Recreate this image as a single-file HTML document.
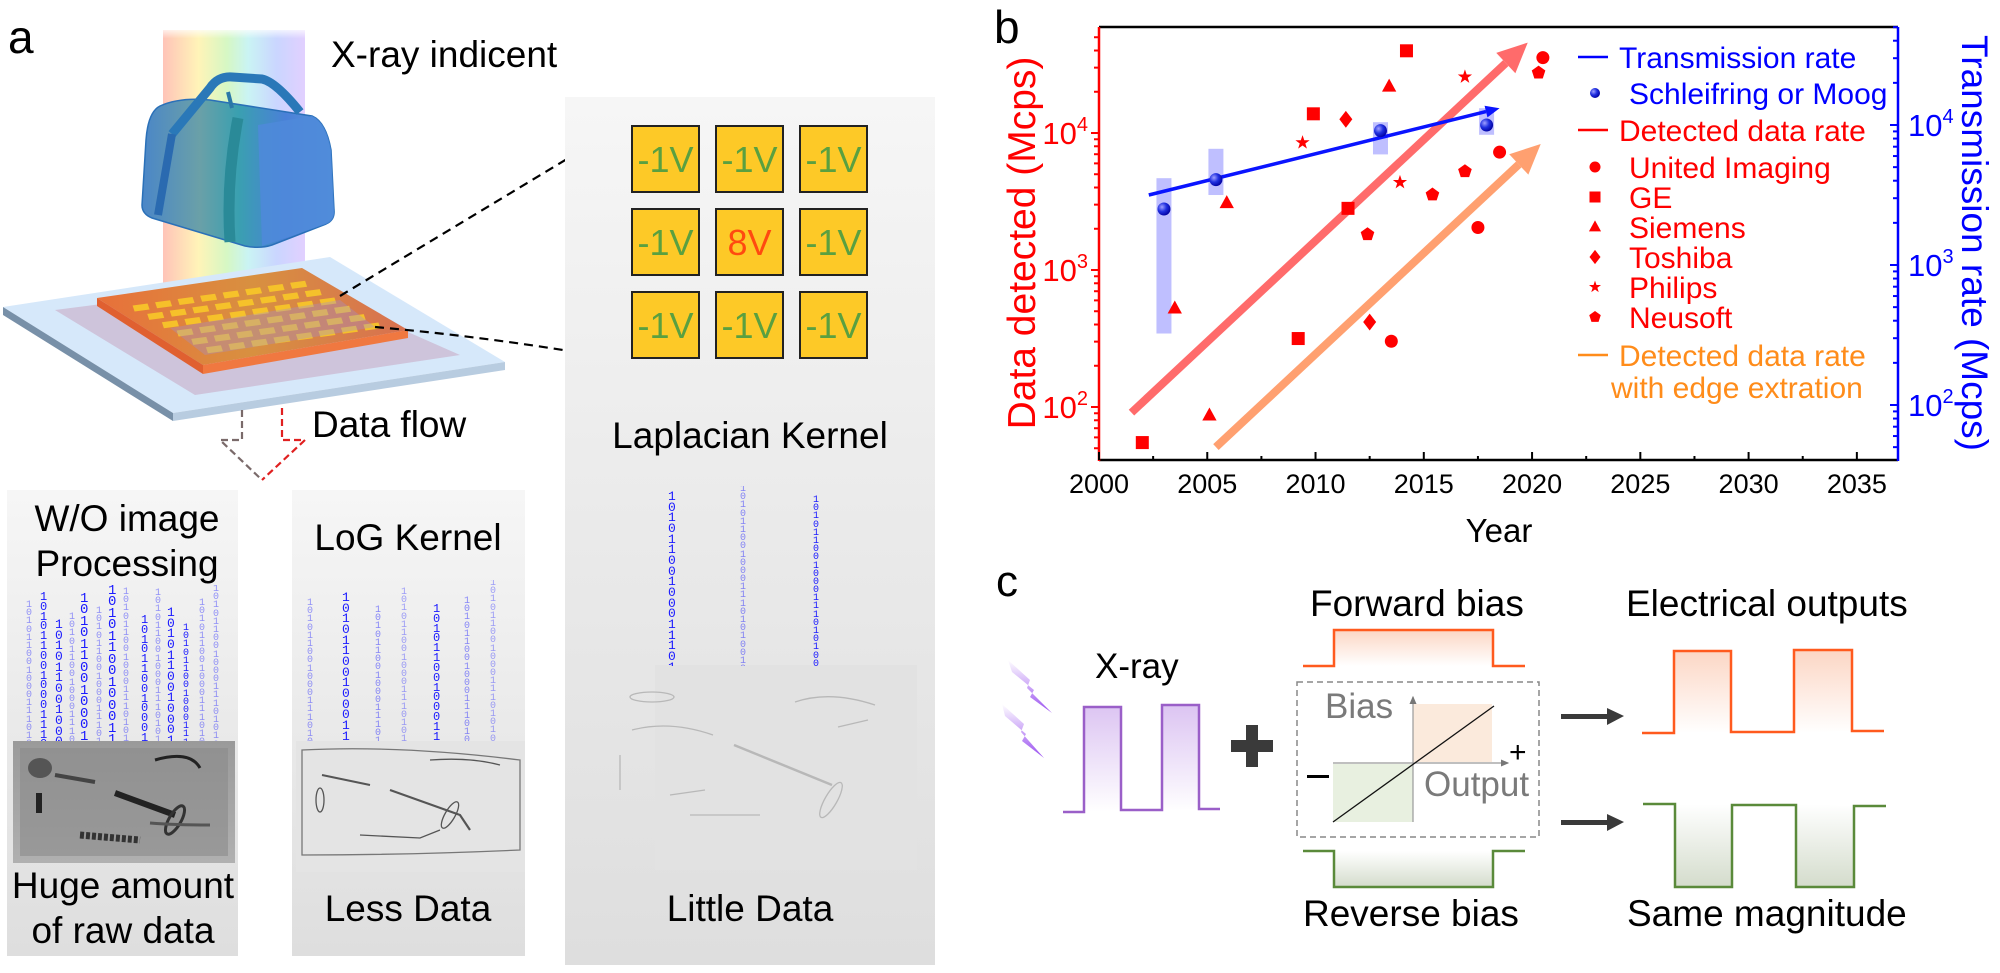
<!DOCTYPE html>
<html><head><meta charset="utf-8">
<style>
html,body{margin:0;padding:0;background:#fff;}
#root{position:relative;width:2000px;height:973px;overflow:hidden;font-family:"Liberation Sans",Arial,sans-serif;}
svg{position:absolute;left:0;top:0;}
.bin{position:absolute;font-family:"Liberation Mono",monospace;word-break:break-all;line-height:0.82;color:#1a1aff;}
.clip{position:absolute;overflow:hidden;}
</style></head>
<body>
<div id="root">
<svg id="fig" width="2000" height="973" viewBox="0 0 2000 973">
<defs>
  <linearGradient id="rainbow" x1="0" x2="1" y1="0" y2="0">
    <stop offset="0" stop-color="#ffb0a0"/><stop offset="0.25" stop-color="#fff0a0"/>
    <stop offset="0.45" stop-color="#c8f5b0"/><stop offset="0.6" stop-color="#b8f0f0"/>
    <stop offset="0.8" stop-color="#b8c8ff"/><stop offset="1" stop-color="#d8c0ff"/>
  </linearGradient>
  <linearGradient id="fadeV" x1="0" x2="0" y1="0" y2="1">
    <stop offset="0" stop-color="#fff" stop-opacity="0.9"/><stop offset="0.15" stop-color="#fff" stop-opacity="0"/>
  </linearGradient>
  <linearGradient id="bagG" x1="0" x2="1" y1="0" y2="0">
    <stop offset="0" stop-color="#4a86c8"/><stop offset="0.3" stop-color="#6aa0a8"/>
    <stop offset="0.5" stop-color="#3aa0b0"/><stop offset="0.75" stop-color="#4a80d8"/><stop offset="1" stop-color="#5a9ad8"/>
  </linearGradient>
  <linearGradient id="chipG" x1="0" x2="1" y1="0" y2="0">
    <stop offset="0" stop-color="#e8703a"/><stop offset="0.5" stop-color="#d89040"/><stop offset="1" stop-color="#d87050"/>
  </linearGradient>
  <linearGradient id="panelG" x1="0" x2="0" y1="0" y2="1">
    <stop offset="0" stop-color="#f6f6f6"/><stop offset="1" stop-color="#dedede"/>
  </linearGradient>
  <linearGradient id="purpG" x1="0" x2="0" y1="0" y2="1">
    <stop offset="0" stop-color="#dcc4f2"/><stop offset="1" stop-color="#ffffff"/>
  </linearGradient>
  <linearGradient id="orgG" x1="0" x2="0" y1="0" y2="1">
    <stop offset="0" stop-color="#fcd6c4"/><stop offset="1" stop-color="#ffffff"/>
  </linearGradient>
  <linearGradient id="grnG" x1="0" x2="0" y1="1" y2="0">
    <stop offset="0" stop-color="#d4dccc"/><stop offset="1" stop-color="#ffffff"/>
  </linearGradient>
  <linearGradient id="boltG" x1="0" x2="0" y1="0" y2="1">
    <stop offset="0" stop-color="#ffffff"/><stop offset="1" stop-color="#9a50f0"/>
  </linearGradient>
  <radialGradient id="ballG" cx="0.35" cy="0.35" r="0.7">
    <stop offset="0" stop-color="#a0a0ff"/><stop offset="0.5" stop-color="#2030e0"/><stop offset="1" stop-color="#0000a0"/>
  </radialGradient>
  <linearGradient id="xrayImg" x1="0" x2="0" y1="0" y2="1">
    <stop offset="0" stop-color="#9a9a9a"/><stop offset="1" stop-color="#b0b0b0"/>
  </linearGradient>
  <marker id="ahGray" markerWidth="8" markerHeight="8" refX="6" refY="4" orient="auto"><path d="M0,1 L7,4 L0,7 Z" fill="#777"/></marker>
</defs>

<!-- PANEL A -->
<text x="8" y="53" font-size="46" fill="#000">a</text>
<rect x="163" y="30" width="142" height="360" fill="url(#rainbow)" opacity="0.75"/>
<rect x="160" y="28" width="150" height="70" fill="url(#fadeV)"/>
<text x="331" y="67" font-size="37" fill="#000">X-ray indicent</text>

<g>
  <path d="M160,106 Q148,112 146,140 L142,205 Q142,214 152,218 L245,246 Q260,249 272,245 L326,224 Q335,220 334,210 L331,150 Q326,122 312,116 L210,100 Q180,97 160,106 Z" fill="url(#bagG)" stroke="#2a70b8" stroke-width="1.5"/>
  <path d="M258,125 L312,116 Q326,122 331,150 L334,210 Q335,220 326,224 L262,246 Z" fill="#4f8ada" opacity="0.85"/>
  <path d="M172,134 L210,88 Q218,76 232,77 L262,79 Q276,82 300,112" fill="none" stroke="#2a78b8" stroke-width="9" stroke-linejoin="round"/>
  <path d="M228,92 L232,108" stroke="#2a78a8" stroke-width="4"/>
  <path d="M172,134 L158,215" stroke="#2a6ab0" stroke-width="8" fill="none"/>
  <path d="M238,118 Q226,180 230,242" stroke="#2a8a98" stroke-width="11" fill="none"/>
</g>

<g>
  <polygon points="3,307 330,257 505,362 173,413" fill="#d6e8fa"/>
  <polygon points="3,307 173,413 173,421 3,315" fill="#7890a8"/>
  <polygon points="173,413 505,362 505,370 173,421" fill="#b8cce0"/>
  <polygon points="55,310 290,280 460,355 195,395" fill="#c080a0" opacity="0.35"/>
  <polygon points="97,298 302,268 408,330 203,365" fill="url(#chipG)"/>
  <polygon points="97,298 203,365 203,374 97,306" fill="#e06030"/>
  <polygon points="203,365 408,330 408,338 203,374" fill="#f07840"/>
  <g id="pixels"></g>
  <polygon points="170,328 340,300 375,327 205,355" fill="#a090d0" opacity="0.35"/>
</g>
<path d="M340,296 L620,127" stroke="#000" stroke-width="2.2" stroke-dasharray="9,6" fill="none"/>
<path d="M375,327 Q500,338 622,360" stroke="#000" stroke-width="2.2" stroke-dasharray="9,6" fill="none"/>

<g fill="none" stroke-width="2.2" stroke-dasharray="7,4">
  <path d="M242,410 L242,440 L220,440 L262,480" stroke="#7a6a6a"/>
  <path d="M282,408 L282,440 L305,440 L262,480" stroke="#e02020"/>
</g>
<text x="312" y="437" font-size="37" fill="#000">Data flow</text>

<!-- bottom panels -->
<rect x="7" y="490" width="231" height="466" fill="url(#panelG)"/>
<text x="127" y="531" font-size="37" text-anchor="middle">W/O image</text>
<text x="127" y="576" font-size="37" text-anchor="middle">Processing</text>
<g>
  <rect x="13" y="741" width="222" height="122" fill="url(#xrayImg)"/>
  <rect x="20" y="748" width="208" height="108" fill="#8a8a8a" opacity="0.6"/>
  <ellipse cx="40" cy="768" rx="12" ry="10" fill="#555"/>
  <path d="M115,793 L175,815" stroke="#222" stroke-width="6"/>
  <path d="M80,835 L140,840" stroke="#333" stroke-width="7" stroke-dasharray="4,2"/>
  <path d="M55,775 L95,782" stroke="#444" stroke-width="4"/>
  <rect x="36" y="793" width="6" height="20" fill="#222"/>
  <ellipse cx="175" cy="820" rx="6" ry="16" fill="none" stroke="#333" stroke-width="3" transform="rotate(30 175 820)"/>
  <path d="M155,760 Q190,750 200,768" stroke="#222" stroke-width="3" fill="none"/>
  <path d="M150,823 Q175,825 210,825" stroke="#555" stroke-width="3"/>
</g>
<text x="123" y="898" font-size="37" text-anchor="middle">Huge amount</text>
<text x="123" y="943" font-size="37" text-anchor="middle">of raw data</text>

<rect x="292" y="490" width="233" height="466" fill="url(#panelG)"/>
<text x="408" y="550" font-size="37" text-anchor="middle">LoG Kernel</text>
<g fill="none" stroke="#555" stroke-width="1.3">
  <rect x="296" y="741" width="229" height="131" fill="#e4e4e4" stroke="none"/>
  <path d="M302,750 Q400,745 520,760 L520,850 Q410,855 302,855 Z" stroke="#777"/>
  <path d="M322,775 L370,785" stroke-width="2"/>
  <ellipse cx="320" cy="800" rx="4" ry="12"/>
  <path d="M390,790 L460,815 L470,830" stroke-width="2.2"/>
  <path d="M360,835 L420,838 L440,830"/>
  <path d="M430,760 Q470,757 500,765"/>
  <ellipse cx="450" cy="815" rx="5" ry="15" transform="rotate(30 450 815)"/>
</g>
<text x="408" y="921" font-size="37" text-anchor="middle">Less Data</text>

<rect x="565" y="97" width="370" height="868" fill="url(#panelG)"/>
<g id="kernel"></g>
<text x="750" y="448" font-size="37" text-anchor="middle">Laplacian Kernel</text>
<g fill="none" stroke="#b8b8b8" stroke-width="1.3">
  <rect x="655" y="665" width="262" height="205" fill="#e2e2e2" stroke="none"/>
  <ellipse cx="652" cy="697" rx="22" ry="5"/>
  <path d="M632,730 Q670,720 713,735"/>
  <path d="M734,745 L832,785" stroke-width="2.5"/>
  <ellipse cx="831" cy="800" rx="6" ry="20" transform="rotate(30 831 800)"/>
  <path d="M670,795 L705,790"/>
  <path d="M690,815 L760,815"/>
  <path d="M795,702 Q830,690 875,705"/>
  <path d="M838,727 L868,720"/>
  <path d="M620,755 L620,790"/>
</g>
<text x="750" y="921" font-size="37" text-anchor="middle">Little Data</text>

<!-- PANEL B -->
<text x="994" y="43" font-size="46">b</text>
<g id="chart"></g>

<!-- PANEL C -->
<text x="996" y="596" font-size="44">c</text>
<g>
  <polygon points="1008,660 1030,680 1027,688 1052,713 1030,697 1034,690 1012,672" fill="url(#boltG)"/>
  <polygon points="1002,704 1024,724 1021,732 1044,758 1022,741 1026,734 1005,716" fill="url(#boltG)"/>
</g>
<text x="1095" y="678" font-size="35">X-ray</text>
<path d="M1084,812 L1084,707 L1121,707 L1121,810 Z M1162,810 L1162,705 L1199,705 L1199,809 Z" fill="url(#purpG)"/>
<polyline points="1063,812 1084,812 1084,707 1121,707 1121,810 1162,810 1162,705 1199,705 1199,809 1220,809" fill="none" stroke="#9a5fc8" stroke-width="2.5"/>
<g fill="#3a3a3a">
  <rect x="1231" y="740" width="42" height="12"/><rect x="1246" y="725" width="12" height="42"/>
</g>
<text x="1310" y="616" font-size="37">Forward bias</text>
<path d="M1334,666 L1334,630 L1493,630 L1493,666 Z" fill="url(#orgG)"/>
<polyline points="1303,666 1334,666 1334,630 1493,630 1493,666 1525,666" fill="none" stroke="#ff5a1e" stroke-width="2.5"/>
<rect x="1297" y="682" width="242" height="155" fill="none" stroke="#888" stroke-width="1.5" stroke-dasharray="6,4"/>
<rect x="1413" y="704" width="79" height="58" fill="#fbeadc"/>
<rect x="1333" y="764" width="80" height="58" fill="#e8f0e0"/>
<line x1="1333" y1="763" x2="1508" y2="763" stroke="#999" stroke-width="1.2" marker-end="url(#ahGray)"/>
<line x1="1413" y1="822" x2="1413" y2="697" stroke="#999" stroke-width="1.2" marker-end="url(#ahGray)"/>
<line x1="1333" y1="822" x2="1494" y2="706" stroke="#111" stroke-width="1.3"/>
<text x="1325" y="718" font-size="35" fill="#7a7a7a">Bias</text>
<text x="1424" y="796" font-size="35" fill="#7a7a7a">Output</text>
<rect x="1307" y="775" width="22" height="3" fill="#000"/>
<text x="1509" y="762" font-size="30" fill="#000">+</text>
<path d="M1334,851 L1334,887 L1493,887 L1493,851 Z" fill="url(#grnG)"/>
<polyline points="1303,851 1334,851 1334,887 1493,887 1493,851 1525,851" fill="none" stroke="#5a8a3a" stroke-width="2.5"/>
<text x="1303" y="926" font-size="37">Reverse bias</text>
<g fill="#3a3a3a">
  <rect x="1561" y="714" width="50" height="5"/><polygon points="1607,708 1624,716 1607,725"/>
  <rect x="1561" y="820" width="50" height="5"/><polygon points="1607,814 1624,822 1607,831"/>
</g>
<text x="1626" y="616" font-size="37">Electrical outputs</text>
<path d="M1674,733 L1674,651 L1731,651 L1731,732 Z M1794,732 L1794,650 L1852,650 L1852,731 Z" fill="url(#orgG)"/>
<polyline points="1642,733 1674,733 1674,651 1731,651 1731,732 1794,732 1794,650 1852,650 1852,731 1884,731" fill="none" stroke="#ff5a1e" stroke-width="2.5"/>
<path d="M1675,804 L1675,887 L1732,887 L1732,805 Z M1796,805 L1796,887 L1854,887 L1854,806 Z" fill="url(#grnG)"/>
<polyline points="1643,804 1675,804 1675,887 1732,887 1732,805 1796,805 1796,887 1854,887 1854,806 1886,806" fill="none" stroke="#5a8a3a" stroke-width="2.5"/>
<text x="1627" y="926" font-size="37">Same magnitude</text>
</svg>
<div id="binaries"></div>
</div>

<script>
// ===== Chart data (panel b) =====
var uiYears = [2018.5, 2017.5, 2013.5, 2020.5];
var uiValues = [7244, 2042, 302, 35481];
var geYears = [2014.2, 2009.9, 2011.5, 2009.2, 2002.0];
var geValues = [39811, 13804, 2818, 316, 55];
var siemensYears = [2013.4, 2005.9, 2003.5, 2005.1];
var siemensValues = [21878, 3090, 525, 87];
var toshibaYears = [2011.4, 2012.5];
var toshibaValues = [12589, 417];
var philipsYears = [2009.4, 2013.9, 2016.9];
var philipsValues = [8511, 4365, 25704];
var neusoftYears = [2012.4, 2015.4, 2016.9, 2020.3];
var neusoftValues = [1820, 3548, 5248, 27542];
var transYears = [2003.0, 2005.4, 2013.0, 2017.9];
var transValues = [2512, 4074, 9120, 10000];
var transLow = [324, 3162, 6166, 8511];
var transHigh = [4169, 6761, 10471, 13183];
var transTrendYears = [2002.3, 2018.5];
var transTrendValues = [3162, 13183];
var detTrendYears = [2001.5, 2019.8];
var detTrendValues = [91, 45709];
var edgeTrendYears = [2005.4, 2020.4];
var edgeTrendValues = [51, 8318];
var xTicks = [2000, 2005, 2010, 2015, 2020, 2025, 2030, 2035];
var xTickLabels = ["2000", "2005", "2010", "2015", "2020", "2025", "2030", "2035"];
var yDecades = [2, 3, 4];

var NS = "http://www.w3.org/2000/svg";
var PL = 1099, PR = 1898, PT = 27, PB = 460;
function xS(yr) { return PL + (yr - 2000) * (PR - PL) / 36.9; }
function yL(v) { return 133 - (Math.log10(v) - 4) * 137; }
function yR(v) { return 125 - (Math.log10(v) - 4) * 140; }
function mk(tag, attrs, parent) {
  var e = document.createElementNS(NS, tag);
  for (var k in attrs) e.setAttribute(k, attrs[k]);
  (parent || chart).appendChild(e);
  return e;
}
var chart = document.getElementById("chart");

var el;
el = mk("line", {x1: PL, y1: PT, x2: PR, y2: PT, stroke: "#000", "stroke-width": 2.5});


el = mk("line", {x1: PL, y1: PB, x2: PR, y2: PB, stroke: "#000", "stroke-width": 2.5});


el = mk("line", {x1: PL, y1: PT, x2: PL, y2: PB + 1, stroke: "#f00", "stroke-width": 2.5});


el = mk("line", {x1: PR, y1: PT, x2: PR, y2: PB + 1, stroke: "#00f", "stroke-width": 2.5});



for (var i = 0; i < xTicks.length; i++) {
  var x = xS(xTicks[i]);
  el = mk("line", {x1: x, y1: PB, x2: x, y2: PB - 8, stroke: "#000", "stroke-width": 2});
  
  
  var mx = xS(xTicks[i] + 2.5);
  if (mx < PR) {
    el = mk("line", {x1: mx, y1: PB, x2: mx, y2: PB - 4, stroke: "#000", "stroke-width": 2});
    
    
  }
  el = mk("text", {x: x, y: 493, "font-size": 27, "text-anchor": "middle", fill: "#000"});
  el.textContent = xTickLabels[i];
  
  
}
el = mk("text", {x: 1499, y: 542, "font-size": 33, "text-anchor": "middle", fill: "#000"});
el.textContent = "Year";



for (var d = 1; d <= 4; d++) {
  for (var m = 1; m <= 9; m++) {
    var v = m * Math.pow(10, d);
    var yl = yL(v), yr = yR(v);
    if (yl >= PT && yl <= PB) {
      el = mk("line", {x1: PL, y1: yl, x2: PL - (m === 1 ? 8 : 5), y2: yl, stroke: "#f00", "stroke-width": 2});
      
      
    }
    if (yr >= PT && yr <= PB) {
      el = mk("line", {x1: PR, y1: yr, x2: PR - (m === 1 ? 8 : 5), y2: yr, stroke: "#00f", "stroke-width": 2});
      
      
    }
  }
}
for (var j = 0; j < yDecades.length; j++) {
  var dv = Math.pow(10, yDecades[j]);
  el = mk("text", {x: 1088, y: yL(dv) + 11, "font-size": 31, "text-anchor": "end", fill: "#f00"});
  el.innerHTML = '10<tspan dy="-13" font-size="20">' + yDecades[j] + '</tspan>';
  
  
  el = mk("text", {x: 1908, y: yR(dv) + 11, "font-size": 31, fill: "#00f"});
  el.innerHTML = '10<tspan dy="-13" font-size="20">' + yDecades[j] + '</tspan>';
  
  
}
el = mk("text", {x: 0, y: 0, "font-size": 39, "text-anchor": "middle", fill: "#f00", transform: "translate(1035,243) rotate(-90)"});
el.textContent = "Data detected (Mcps)";


el = mk("text", {x: 0, y: 0, "font-size": 37, "text-anchor": "middle", fill: "#00f", transform: "translate(1962,243) rotate(90)"});
el.textContent = "Transmission rate (Mcps)";



for (var t = 0; t < transYears.length; t++) {
  var bx = xS(transYears[t]);
  el = mk("rect", {x: bx - 7.5, y: yR(transHigh[t]), width: 15, height: yR(transLow[t]) - yR(transHigh[t]), fill: "#b8b8ff", opacity: 0.9});
  
  
}

function arrow(x1, y1, x2, y2, color, w, head, hw, name) {
  var ang = Math.atan2(y2 - y1, x2 - x1);
  var bx = x2 - head * Math.cos(ang), by = y2 - head * Math.sin(ang);
  var l = mk("line", {x1: x1, y1: y1, x2: bx, y2: by, stroke: color, "stroke-width": w});
  
  
  var px = -Math.sin(ang) * hw, py = Math.cos(ang) * hw;
  var h = mk("polygon", {points: x2 + "," + y2 + " " + (bx + px) + "," + (by + py) + " " + (bx - px) + "," + (by - py), fill: color});
  
  
}
arrow(xS(detTrendYears[0]), yL(detTrendValues[0]), xS(detTrendYears[1]), yL(detTrendValues[1]), "#ff6b6b", 8, 30, 14, "detected-rate-trend");
arrow(xS(edgeTrendYears[0]), yL(edgeTrendValues[0]), xS(edgeTrendYears[1]), yL(edgeTrendValues[1]), "#ffa070", 8, 30, 14, "edge-rate-trend");
arrow(xS(transTrendYears[0]), yR(transTrendValues[0]), xS(transTrendYears[1]), yR(transTrendValues[1]), "#0a14ff", 3.5, 14, 6, "transmission-trend");

function marker(shape, cx, cy, s) {
  var e;
  if (shape === "circle") e = mk("circle", {cx: cx, cy: cy, r: s, fill: "#f00"});
  else if (shape === "square") e = mk("rect", {x: cx - s, y: cy - s, width: 2 * s, height: 2 * s, fill: "#f00"});
  else if (shape === "triangle") e = mk("polygon", {points: cx + "," + (cy - s * 1.2) + " " + (cx + s * 1.1) + "," + (cy + s * 0.8) + " " + (cx - s * 1.1) + "," + (cy + s * 0.8), fill: "#f00"});
  else if (shape === "diamond") e = mk("polygon", {points: cx + "," + (cy - s * 1.3) + " " + (cx + s) + "," + cy + " " + cx + "," + (cy + s * 1.3) + " " + (cx - s) + "," + cy, fill: "#f00"});
  else if (shape === "star") {
    var p = [];
    for (var k = 0; k < 10; k++) { var r = k % 2 ? s * 0.45 : s * 1.15; var a = -Math.PI / 2 + k * Math.PI / 5; p.push((cx + r * Math.cos(a)) + "," + (cy + r * Math.sin(a))); }
    e = mk("polygon", {points: p.join(" "), fill: "#f00"});
  } else if (shape === "pentagon") {
    var q = [];
    for (var k2 = 0; k2 < 5; k2++) { var a2 = -Math.PI / 2 + k2 * 2 * Math.PI / 5; q.push((cx + s * 1.1 * Math.cos(a2)) + "," + (cy + s * 1.1 * Math.sin(a2))); }
    e = mk("polygon", {points: q.join(" "), fill: "#f00"});
  } else if (shape === "ball") e = mk("circle", {cx: cx, cy: cy, r: s, fill: "url(#ballG)"});
  return e;
}
function series(years, vals, shape, name) {
  for (var i = 0; i < years.length; i++) {
    var e = marker(shape, xS(years[i]), yL(vals[i]), 6.5);
    
    
  }
}
series(uiYears, uiValues, "circle", "united-imaging-point");
series(geYears, geValues, "square", "ge-point");
series(siemensYears, siemensValues, "triangle", "siemens-point");
series(toshibaYears, toshibaValues, "diamond", "toshiba-point");
series(philipsYears, philipsValues, "star", "philips-point");
series(neusoftYears, neusoftValues, "pentagon", "neusoft-point");
for (var b = 0; b < transYears.length; b++) {
  el = marker("ball", xS(transYears[b]), yR(transValues[b]), 6.5);
  
  
}

var legRows = [
  {y: 57, type: "line", color: "#00f", text: "Transmission rate", tx: 1619, name: "legend-transmission-rate"},
  {y: 93, type: "ball", color: "#00f", text: "Schleifring or Moog", tx: 1629, name: "legend-schleifring"},
  {y: 130, type: "line", color: "#f00", text: "Detected data rate", tx: 1619, name: "legend-detected-rate"},
  {y: 167, type: "circle", color: "#f00", text: "United Imaging", tx: 1629, name: "legend-united-imaging"},
  {y: 197, type: "square", color: "#f00", text: "GE", tx: 1629, name: "legend-ge"},
  {y: 227, type: "triangle", color: "#f00", text: "Siemens", tx: 1629, name: "legend-siemens"},
  {y: 257, type: "diamond", color: "#f00", text: "Toshiba", tx: 1629, name: "legend-toshiba"},
  {y: 287, type: "star", color: "#f00", text: "Philips", tx: 1629, name: "legend-philips"},
  {y: 317, type: "pentagon", color: "#f00", text: "Neusoft", tx: 1629, name: "legend-neusoft"},
  {y: 355, type: "line", color: "#ff8c1a", text: "Detected data rate", tx: 1619, name: "legend-edge-rate"},
  {y: 387, type: "none", color: "#ff8c1a", text: "with edge extration", tx: 1611, name: "legend-edge-rate-2"}
];
for (var r = 0; r < legRows.length; r++) {
  var row = legRows[r];
  if (row.type === "line") {
    el = mk("line", {x1: 1578, y1: row.y, x2: 1608, y2: row.y, stroke: row.color, "stroke-width": 2.5});
    
    
  } else if (row.type !== "none") {
    el = marker(row.type, 1595, row.y, row.type === "ball" ? 5 : 5.5);
    
    
  }
  el = mk("text", {x: row.tx, y: row.y + 11, "font-size": 30, fill: row.color});
  el.textContent = row.text;
  
  
}

// ===== decorative parts of panel a =====
var pix = document.getElementById("pixels");
for (var rI = 0; rI < 6; rI++) {
  for (var cI = 0; cI < 8; cI++) {
    var u = (cI + 0.5) / 8, w = (rI + 0.5) / 6;
    var px0 = 122 + u * 180 + w * 88, py0 = 305 - u * 26 + w * 50;
    var pe = document.createElementNS(NS, "polygon");
    pe.setAttribute("points", (px0 - 8) + "," + (py0 - 2) + " " + (px0 + 7) + "," + (py0 - 4) + " " + (px0 + 9) + "," + (py0 + 2) + " " + (px0 - 6) + "," + (py0 + 4));
    pe.setAttribute("fill", "#f8c828");
    pe.setAttribute("opacity", "0.9");
    
    
    pix.appendChild(pe);
  }
}
var kern = document.getElementById("kernel");
var kx = [632, 716, 800], ky = [126, 209, 292];
for (var a1 = 0; a1 < 3; a1++) for (var a2 = 0; a2 < 3; a2++) {
  var kr = document.createElementNS(NS, "rect");
  kr.setAttribute("x", kx[a2]); kr.setAttribute("y", ky[a1]);
  kr.setAttribute("width", 67); kr.setAttribute("height", 66);
  kr.setAttribute("fill", "#fdc927"); kr.setAttribute("stroke", "#222"); kr.setAttribute("stroke-width", 2);
  
  
  kern.appendChild(kr);
  var center = (a1 === 1 && a2 === 1);
  var kt = document.createElementNS(NS, "text");
  kt.setAttribute("x", kx[a2] + 33.5); kt.setAttribute("y", ky[a1] + 46);
  kt.setAttribute("font-size", 36); kt.setAttribute("text-anchor", "middle");
  kt.setAttribute("fill", center ? "#ff4a10" : "#5aa040");
  kt.textContent = center ? "8V" : "-1V";
  
  
  kern.appendChild(kt);
}

var binBox = document.getElementById("binaries");
function binCols(cols, left, top, width, height) {
  var c = document.createElement("div");
  c.className = "clip";
  c.style.left = left + "px"; c.style.top = top + "px"; c.style.width = width + "px"; c.style.height = height + "px";
  
  
  for (var i = 0; i < cols.length; i++) {
    var d = document.createElement("div");
    d.className = "bin";
    d.style.left = (cols[i][0] - left) + "px";
    d.style.top = (cols[i][1] - top) + "px";
    d.style.fontSize = cols[i][2] + "px";
    d.style.width = (cols[i][2] * 0.6) + "px";
    d.style.opacity = cols[i][3];
    d.textContent = "1010110010001110101001011101001010110";
    
    
    c.appendChild(d);
  }
  binBox.appendChild(c);
}
binCols([[26,602,10,0.45],[40,593,12,1],[55,620,13,1],[69,614,10,0.45],[80,594,14,1],[96,608,10,0.45],[108,586,14,1],[123,589,10,0.45],[141,616,12,1],[155,590,10,0.45],[167,608,13,1],[183,625,10,1],[199,600,10,0.45],[213,586,10,0.45]], 13, 585, 222, 156);
binCols([[307,600,10,0.45],[342,593,13,1],[375,607,10,0.5],[401,589,10,0.4],[433,605,12,1],[464,598,10,0.5],[490,580,10,0.4]], 296, 580, 229, 161);
binCols([[668,492,13,1],[740,486,10,0.5],[813,497,10,1]], 655, 486, 260, 180);
</script>
</body></html>
